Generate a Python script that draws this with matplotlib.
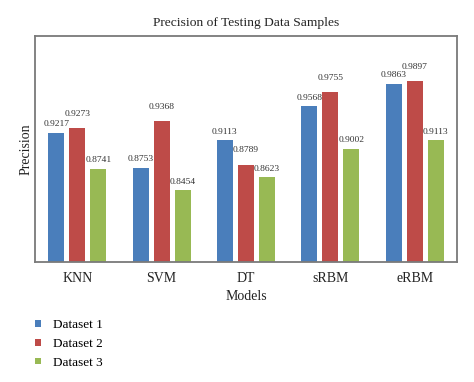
import matplotlib
matplotlib.use("Agg")
import matplotlib.pyplot as plt
import numpy as np

models = ["KNN", "SVM", "DT", "sRBM", "eRBM"]
dataset1 = [0.9217, 0.8753, 0.9113, 0.9568, 0.9863]
dataset2 = [0.9273, 0.9368, 0.8789, 0.9755, 0.9897]
dataset3 = [0.8741, 0.8454, 0.8623, 0.9002, 0.9113]
series_names = ["Dataset 1", "Dataset 2", "Dataset 3"]
colors = ["#4a7ebb", "#be4b48", "#98b954"]

plt.rcParams['font.family'] = ['Liberation Serif', 'DejaVu Serif']

fig = plt.figure(figsize=(4.74, 3.82), dpi=100)
ax = fig.add_axes([0.074, 0.314, 0.890, 0.592])

x = np.arange(len(models))
width = 0.19
offsets = [-0.25, 0.0, 0.25]
label_gaps = [0.006, 0.014, 0.006]
handles = []
for vals, off, c, name, gap in zip([dataset1, dataset2, dataset3], offsets, colors, series_names, label_gaps):
    b = ax.bar(x + off, vals, width, color=c, label=name)
    handles.append(b)
    for xi, v in zip(x + off, vals):
        ax.text(xi, v + gap, f"{v:.4f}", ha="center", va="bottom", fontsize=6.8, color="#333333")

ax.set_xlim(-0.5, 4.5)
ax.set_ylim(0.75, 1.05)
ax.set_yticks([])
ax.set_xticks(x)
ax.set_xticklabels(models, fontsize=10)
ax.tick_params(axis="x", length=0, pad=7, colors="#222222")
for s in ax.spines.values():
    s.set_color("#7a7a7a")
    s.set_linewidth(1.3)

ax.set_title("Precision of Testing Data Samples", fontsize=9.7, pad=7, color="#222222")
ax.set_xlabel("Models", fontsize=10, labelpad=4, color="#222222")
ax.set_ylabel("Precision", fontsize=10, labelpad=2, color="#222222")

fig.legend(handles=handles, labels=series_names, loc="upper left",
           bbox_to_anchor=(0.048, 0.195), frameon=False, fontsize=9.5,
           handlelength=0.5, handleheight=0.4, handletextpad=0.9, labelspacing=0.5)

fig.savefig("out.png", dpi=100)
